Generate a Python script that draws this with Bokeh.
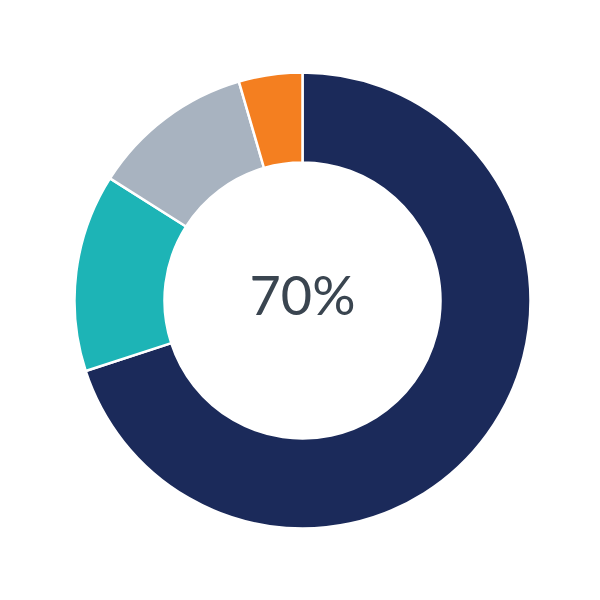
import math
from bokeh.plotting import figure
from bokeh.models import ColumnDataSource, Range1d
from bokeh.core.properties import value
from bokeh.embed import file_html
from bokeh.resources import INLINE

categories = ["A", "B", "C", "D"]
values = [70, 14, 11.5, 4.5]
colors = ["#1b2a5a", "#1db4b6", "#a8b3c0", "#f47f20"]
center_label = "70%"

total = sum(values)
starts, ends = [], []
acc = 0.0
for v in values:
    starts.append(math.pi / 2 - acc / total * 2 * math.pi)
    acc += v
    ends.append(math.pi / 2 - acc / total * 2 * math.pi)

src = ColumnDataSource(dict(cat=categories, val=values, color=colors, start=starts, end=ends))

W = H = 584
p = figure(width=W, height=H, output_backend="svg", toolbar_location=None,
           x_range=Range1d(0, W), y_range=Range1d(0, H), min_border=0)
p.axis.visible = False
p.grid.visible = False
p.outline_line_color = None
p.background_fill_color = "white"

cx, cy = 302, H - 300
p.annular_wedge(x=cx, y=cy, inner_radius=138, outer_radius=228,
                start_angle="start", end_angle="end", direction="clock",
                fill_color="color", line_color="white", line_width=2.5, source=src)

p.text(x=[cx], y=[cy], text=[center_label], text_align="center", text_baseline="middle",
       y_offset=-6,
       text_font=value("Lato"), text_font_size="54px", text_color="#3a4550")

open("out.html", "w").write(file_html(p, INLINE))
